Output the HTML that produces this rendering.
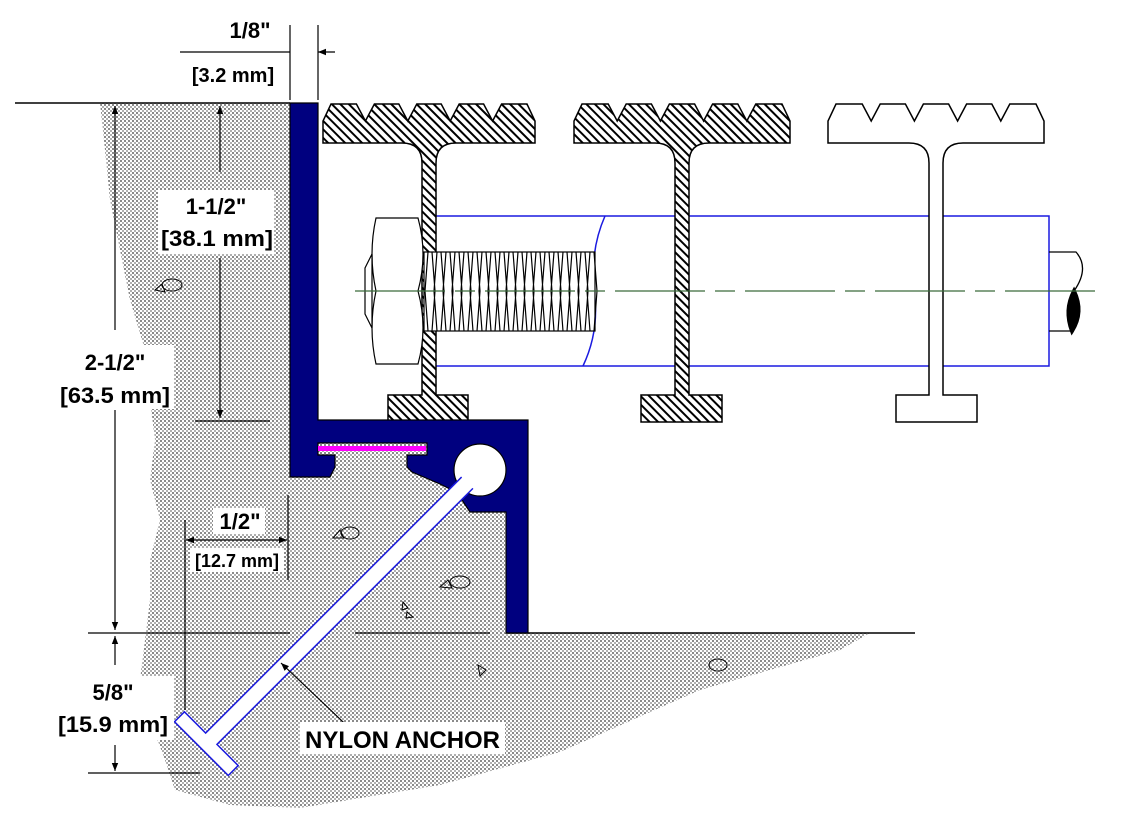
<!DOCTYPE html>
<html><head><meta charset="utf-8"><style>
html,body{margin:0;padding:0;background:#fff;}
svg{display:block;}
text{font-family:"Liberation Sans Narrow","Liberation Sans",sans-serif;font-weight:bold;fill:#000;}
</style></head><body>
<svg id="s" width="1122" height="819" viewBox="0 0 1122 819" xmlns="http://www.w3.org/2000/svg">
<defs>
<pattern id="dots" width="4" height="4" patternUnits="userSpaceOnUse">
<rect width="4" height="4" fill="#fff"/><rect x="0" y="0" width="2" height="2" fill="#8a8a8a"/><rect x="2" y="2" width="2" height="2" fill="#b0b0b0"/>
</pattern>
<pattern id="hatch" width="6" height="6" patternUnits="userSpaceOnUse" patternTransform="rotate(45)">
<rect width="6" height="6" fill="#fff"/><rect x="0" y="0" width="6" height="2" fill="#000"/>
</pattern>
<marker id="ar" viewBox="0 0 10 10" refX="10" refY="5" markerWidth="14" markerHeight="8" markerUnits="userSpaceOnUse" orient="auto-start-reverse"><path d="M0,1 L10,5 L0,9 Z" fill="#000"/></marker>
</defs>
<!-- concrete -->
<path d="M100,103 L290,103 L290,440 L430,440 L430,480 L470,480 L505,510 L505,633 L870,633 L840,650 L700,690 L560,752 L440,785 L300,808 L230,805 L175,790 L165,760 L150,720 L140,680 L145,640 L150,600 L150,560 L160,520 L150,480 L155,440 L150,400 L145,350 L130,300 L120,250 L110,200 L105,150 Z" fill="url(#dots)"/>
<!-- lines -->
<line x1="15" y1="103" x2="290" y2="103" stroke="#000" stroke-width="1.5"/>
<line x1="88" y1="633" x2="290" y2="633" stroke="#000" stroke-width="1.3"/>
<line x1="355" y1="633" x2="490" y2="633" stroke="#000" stroke-width="1.3"/>
<line x1="506" y1="633" x2="915" y2="633" stroke="#000" stroke-width="1.5"/>
<!-- tube -->
<rect x="430" y="216" width="619" height="150" fill="none" stroke="#1a1ae0" stroke-width="1.5"/>
<path d="M605,216 Q590,250 594,291 Q600,330 583,366" fill="none" stroke="#1a1ae0" stroke-width="1.5"/>
<g id="bars"></g>
<!-- bolt -->
<g id="bolt" stroke="#000" stroke-width="1.2" fill="#fff">
<path d="M376,218 L418,218 Q428,254 418,291 Q428,328 418,364 L376,364 Q368,328 376,291 Q368,254 376,218 Z"/>
<path d="M372,254 L365,268 L365,314 L372,328 Z"/>
<rect x="424" y="252" width="171" height="79"/>
<g id="thr"></g>
</g>
<!-- rod end -->
<path d="M1049,252 L1076,252 Q1090,268 1074,291" fill="none" stroke="#000" stroke-width="1.3"/>
<line x1="1049" y1="331" x2="1074" y2="331" stroke="#000" stroke-width="1.3"/>
<path d="M1074,291 Q1064,310 1072,331 Q1084,312 1074,291 Z" fill="#000" stroke="#000" stroke-width="4"/>
<!-- centerline -->
<line x1="355" y1="291" x2="1095" y2="291" stroke="#3a6a3a" stroke-width="1.2" stroke-dasharray="90,10,20,10"/>
<!-- channel -->
<path d="M290,103 L318,103 L318,420 L528,420 L528,633 L506,633 L506,512 L470,512 L462,500 L452,490 L440,484 L412,472 L407,467 L407,455 L427,455 L427,443 L318,443 L318,455 L335,455 L335,467 L330,477 L290,477 Z" fill="#00007f" stroke="#000" stroke-width="1.2"/>
<rect x="318" y="446" width="108" height="5" fill="#ff00ff"/>
<circle cx="480" cy="470" r="26" fill="#fff" stroke="#000" stroke-width="1.2"/>
<!-- anchor -->
<g transform="translate(480,470) rotate(135)">
<path d="M18,-8 L380,-8 L380,-38 L394,-38 L394,38 L380,38 L380,8 L18,8" fill="#fff" stroke="#1a1ae0" stroke-width="1.5"/>
<rect x="0" y="-7" width="22" height="14" fill="#fff"/>
</g>
<!-- dimension lines -->
<g stroke="#000" stroke-width="1.2" fill="none">
<line x1="290" y1="25" x2="290" y2="100"/><line x1="318" y1="25" x2="318" y2="100"/>
<line x1="180" y1="52" x2="290" y2="52"/><line x1="335" y1="52" x2="318" y2="52" marker-end="url(#ar)"/>
<line x1="220" y1="172" x2="220" y2="106" marker-end="url(#ar)"/>
<line x1="220" y1="258" x2="220" y2="418" marker-end="url(#ar)"/>
<line x1="195" y1="421" x2="270" y2="421"/>
<line x1="115" y1="330" x2="115" y2="106" marker-end="url(#ar)"/>
<line x1="115" y1="410" x2="115" y2="630" marker-end="url(#ar)"/>
<line x1="115" y1="665" x2="115" y2="636" marker-end="url(#ar)"/>
<line x1="115" y1="745" x2="115" y2="771" marker-end="url(#ar)"/>
<line x1="88" y1="773" x2="200" y2="773"/>
<line x1="185" y1="520" x2="185" y2="710"/><line x1="288" y1="495" x2="288" y2="580"/>
<line x1="240" y1="540" x2="186" y2="540" marker-end="url(#ar)"/><line x1="240" y1="540" x2="287" y2="540" marker-end="url(#ar)"/>
<line x1="360" y1="738" x2="281" y2="663" marker-end="url(#ar)"/>
</g>
<!-- label backgrounds -->
<g fill="#fff">
<rect x="182" y="69" width="102" height="24"/>
<rect x="158" y="190" width="116" height="64"/>
<rect x="58" y="345" width="116" height="64"/>
<rect x="213" y="508" width="52" height="26"/>
<rect x="190" y="548" width="94" height="24"/>
<rect x="58" y="676" width="116" height="64"/>
<rect x="300" y="722" width="205" height="32"/>
</g>
<text x="250" y="38" font-size="22" text-anchor="middle">1/8"</text>
<text x="233" y="82" font-size="20" text-anchor="middle">[3.2 mm]</text>
<text x="216" y="214" font-size="22" text-anchor="middle">1-1/2"</text>
<text x="217" y="246" font-size="22" text-anchor="middle" textLength="112" lengthAdjust="spacingAndGlyphs">[38.1 mm]</text>
<text x="115" y="370" font-size="22" text-anchor="middle">2-1/2"</text>
<text x="115" y="403" font-size="22" text-anchor="middle" textLength="110" lengthAdjust="spacingAndGlyphs">[63.5 mm]</text>
<text x="240" y="529" font-size="22" text-anchor="middle">1/2"</text>
<text x="237" y="567" font-size="18" text-anchor="middle">[12.7 mm]</text>
<text x="113" y="700" font-size="22" text-anchor="middle">5/8"</text>
<text x="113" y="732" font-size="22" text-anchor="middle" textLength="110" lengthAdjust="spacingAndGlyphs">[15.9 mm]</text>
<text x="305" y="748" font-size="24" textLength="195" lengthAdjust="spacingAndGlyphs">NYLON ANCHOR</text>
<!-- aggregate bits -->
<g fill="none" stroke="#000" stroke-width="1">
<ellipse cx="172" cy="285" rx="10" ry="6"/><path d="M155,290 L162,284 L165,292 Z"/>
<ellipse cx="350" cy="533" rx="9" ry="6"/><path d="M333,538 L340,530 L344,538 Z"/>
<ellipse cx="460" cy="582" rx="10" ry="6"/><path d="M440,587 L448,580 L452,588 Z"/>
<path d="M403,602 L408,608 L402,610 Z"/><path d="M407,612 L413,617 L406,618 Z"/>
<path d="M478,665 L486,670 L480,676 Z"/><ellipse cx="718" cy="665" rx="9" ry="6"/>
</g>
</svg>
<script>
(function(){
var NS="http://www.w3.org/2000/svg";
function bar(x0,x1,cx,bx0,bx1,fill){
 var p="M"+x0+",143 L"+x0+",121 L"+(x0+8)+",104 ";
 var per=(x1-x0)/5;
 for(var k=1;k<5;k++){var n=x0+per*k;p+="L"+(n-9)+",104 L"+n+",121 L"+(n+9)+",104 ";}
 p+="L"+(x1-8)+",104 L"+x1+",121 L"+x1+",143 L"+(cx+27)+",143 Q"+(cx+7)+",143 "+(cx+7)+",163 L"+(cx+7)+",395 L"+bx1+",395 L"+bx1+",422 L"+bx0+",422 L"+bx0+",395 L"+(cx-7)+",395 L"+(cx-7)+",163 Q"+(cx-7)+",143 "+(cx-27)+",143 Z";
 var e=document.createElementNS(NS,"path");e.setAttribute("d",p);e.setAttribute("fill",fill);e.setAttribute("stroke","#000");e.setAttribute("stroke-width","1.5");
 document.getElementById("bars").appendChild(e);
}
bar(323,535,429,388,468,"url(#hatch)");
bar(574,790,682,641,722,"url(#hatch)");
bar(828,1044,936,896,977,"#fff");
var t=document.getElementById("thr"),s="";
for(var x=428;x<592;x+=9){s+="M"+x+",252 L"+(x-3)+",291 L"+x+",331 M"+(x+4)+",252 L"+(x+7)+",291 L"+(x+4)+",331 ";}
var e=document.createElementNS(NS,"path");e.setAttribute("d",s);e.setAttribute("fill","none");t.appendChild(e);
})();
</script>
</body></html>
